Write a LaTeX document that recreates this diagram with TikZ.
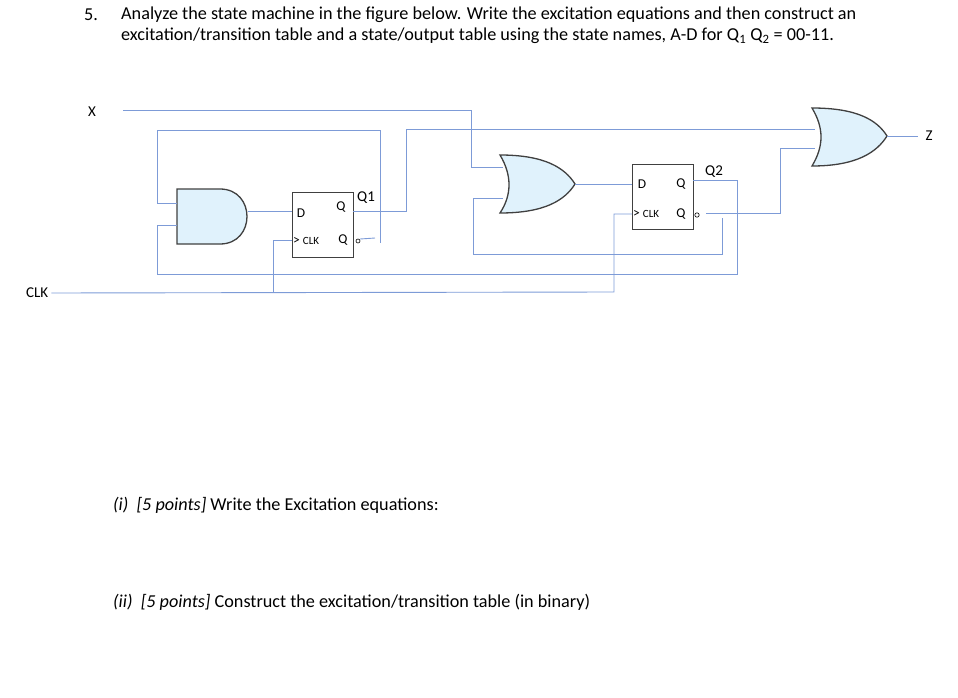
\documentclass[tikz,border=0pt]{standalone}
\usepackage{fontspec}
\setmainfont{Carlito}
\begin{document}
\begin{tikzpicture}[x=1pt,y=-1pt,
  wire/.style={draw=wirec,line width=0.9pt},
  gate/.style={draw=black!75,fill=gatec,line width=1.3pt},
  ffbox/.style={draw=black!75,line width=0.9pt},
  lbl/.style={inner sep=0pt,font=\fontsize{15}{17}\selectfont},
  sm/.style={inner sep=0pt,font=\fontsize{13.5}{15}\selectfont},
  txt/.style={inner sep=0pt,anchor=west,font=\fontsize{18.2}{21}\selectfont}]
\definecolor{wirec}{RGB}{125,155,215}
\definecolor{gatec}{RGB}{224,242,252}
\useasboundingbox (0,0) rectangle (958,698);
% text
\node[txt] (n5) at (84,15) {5.};
\node[txt] (t1) at (121,15) {Analyze the state machine in the figure below. Write the excitation equations and then construct an};
\node[txt] (t2) at (121,36) {excitation/transition table and a state/output table using the state names, A-D for Q\textsubscript{1} Q\textsubscript{2} = 00-11.};
\node[txt] (ti) at (113,505) {\textit{(i)\ \ [5 points]} Write the Excitation equations:};
\node[txt] (tii) at (113,602) {\textit{(ii)\ \ [5 points]} Construct the excitation/transition table (in binary)};
\node[lbl] (X) at (92,112) {X};
\node[lbl,anchor=west] (CLK) at (26,293) {CLK};
\node[lbl] (Z) at (929,136) {Z};
% gates
\path[gate] (177,189) -- (220,189) .. controls (256,189) and (256,244) .. (220,244) -- (177,244) -- cycle;
\coordinate (andA) at (177,203); \coordinate (andB) at (177,225); \coordinate (andO) at (248,211);
\path[gate] (500,155) .. controls (512,175) and (512,195) .. (500,213) .. controls (545,213) and (565,200) .. (575,184) .. controls (565,168) and (545,155) .. cycle;
\coordinate (or1A) at (503,167); \coordinate (or1B) at (503,198); \coordinate (or1O) at (575,184);
\path[gate] (812,108) .. controls (824,128) and (824,146) .. (812,166) .. controls (857,166) and (877,152) .. (887,136) .. controls (877,120) and (857,108) .. cycle;
\coordinate (or2A) at (815,129); \coordinate (or2B) at (815,148); \coordinate (or2O) at (887,136);
% flip-flops
\node[ffbox,minimum width=61pt,minimum height=65pt,inner sep=0pt] (ff1) at (322.5,224.5) {};
\node[ffbox,minimum width=61pt,minimum height=65pt,inner sep=0pt] (ff2) at (662.5,196.5) {};
\node[sm] (d1) at (301,213) {D};
\node[sm] (q1) at (341,207) {Q};
\node[sm,anchor=west] (c1) at (293,241) {> \fontsize{11}{13}\selectfont CLK};
\node[sm] (qb1) at (343,240) {Q};
\draw[line width=0.6pt] (358,241) circle (2);
\node[lbl] (Q1) at (366,198) {Q1};
\node[sm] (d2) at (642,184) {D};
\node[sm] (q2) at (681,184) {Q};
\node[sm,anchor=west] (c2) at (633,214) {> \fontsize{11}{13}\selectfont CLK};
\node[sm] (qb2) at (681,214) {Q};
\draw[line width=0.6pt] (697,215) circle (2.2);
\node[lbl] (Q2) at (714,172) {Q2};
% wires
\coordinate (xs) at (123,110);
\draw[wire] (xs) -- (471,110) -- (471,167) -- (or1A);
\draw[wire] (andA) -- (157,203) -- (157,130) -- (380,130) -- (380,243);
\draw[wire] (360,239) -- (375,238);
\draw[wire] (andB) -- (157,225) -- (157,274) -- (737,274) -- (737,180) -- (693,180);
\draw[wire] (andO) -- (292,211);
\draw[wire] (353,211) -- (406,211) -- (406,129) -- (or2A);
\draw[wire] (CLK.east) ++(3,0) -- (614,292) -- (614,214) -- (632,214);
\draw[wire] (273,292) -- (273,240) -- (292,240);
\draw[wire] (or1O) -- (632,184);
\draw[wire] (or1B) -- (473,198) -- (473,254) -- (722,254) -- (722,218);
\draw[wire] (706,213) -- (780,213) -- (780,148) -- (or2B);
\draw[wire] (or2O) -- (918,136);
\end{tikzpicture}
\end{document}
